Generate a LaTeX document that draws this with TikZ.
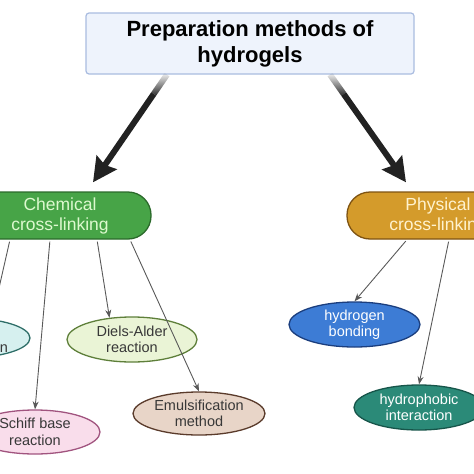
\documentclass[tikz,border=0pt]{standalone}
\usepackage{fontspec}
\setmainfont{Liberation Sans}
\usetikzlibrary{shapes.geometric,arrows.meta,calc,fadings}

\definecolor{titlefill}{HTML}{EEF3FC}
\definecolor{titleline}{HTML}{A9BCE0}
\definecolor{chemfill}{HTML}{47A447}
\definecolor{chemline}{HTML}{2B6A2B}
\definecolor{chemtext}{HTML}{DDF9CF}
\definecolor{physfill}{HTML}{D49B2B}
\definecolor{physline}{HTML}{7E5312}
\definecolor{phystext}{HTML}{FFF3CF}
\definecolor{cyanfill}{HTML}{D6F0EF}
\definecolor{cyanline}{HTML}{2E6E68}
\definecolor{schifffill}{HTML}{F9DDEB}
\definecolor{schiffline}{HTML}{A1547F}
\definecolor{dielsfill}{HTML}{EAF4D6}
\definecolor{dielsline}{HTML}{5E7F3A}
\definecolor{emulfill}{HTML}{E8D5C8}
\definecolor{emulline}{HTML}{5A3B2B}
\definecolor{hbondfill}{HTML}{3D7CD5}
\definecolor{hbondline}{HTML}{1B3E7E}
\definecolor{hphobfill}{HTML}{2B8A78}
\definecolor{hphobline}{HTML}{17554A}
\definecolor{darktext}{HTML}{383838}
\definecolor{arrowgray}{HTML}{222222}

\tikzset{
  branch/.style={draw, line width=1.3pt, rounded corners=23pt, minimum width=182pt,
    minimum height=47pt, inner sep=0pt, align=center, font=\fontsize{17.5}{20}\selectfont},
  method/.style={ellipse, draw, line width=1.3pt, minimum width=130pt, minimum height=44pt,
    inner sep=0pt, align=center, font=\fontsize{14.5}{16.5}\selectfont},
  bigarrow/.style={line width=6pt, draw=arrowgray, -{Stealth[length=24pt,width=24pt,inset=3pt]}},
  fadeline/.style={line width=6pt, draw=arrowgray, path fading=north},
  thinarrow/.style={line width=0.9pt, draw=black!65, shorten <=2pt, -{Stealth[length=8pt,width=6pt]}},
}

\begin{document}
\begin{tikzpicture}[x=1pt,y=-1pt]
  \useasboundingbox (0,0) rectangle (474,474);

  % title box
  \node[draw=titleline, fill=titlefill, line width=1.2pt, rounded corners=3pt,
    minimum width=328pt, minimum height=61pt, align=center,
    font=\fontsize{22}{26}\selectfont\bfseries] (title) at (250,43.5)
    {Preparation methods of\\hydrogels};

  % the two branches
  \node[branch, fill=chemfill, draw=chemline, text=chemtext] (chem) at (60,215.5)
    {Chemical\\cross-linking};
  \node[branch, fill=physfill, draw=physline, text=phystext] (phys) at (438,215.5)
    {Physical\\cross-linking};

  % methods
  \node[method, fill=cyanfill, draw=cyanline, minimum height=40pt] (cyanm) at (-35,338) {};
  \node[anchor=base, text=darktext, font=\fontsize{14.5}{16.5}\selectfont] (cyantxt) at (4,352) {n};
  \node[method, fill=schifffill, draw=schiffline, text=darktext] (schiff) at (35,432)
    {Schiff base\\reaction};
  \node[method, fill=dielsfill, draw=dielsline, text=darktext, minimum height=45pt] (diels) at (132,339.5)
    {Diels-Alder\\reaction};
  \node[method, fill=emulfill, draw=emulline, text=darktext, minimum width=132pt, minimum height=43pt] (emul) at (199,413.5)
    {Emulsification\\method};
  \node[method, fill=hbondfill, draw=hbondline, text=white, minimum width=131pt, minimum height=45pt] (hbond) at (354.5,324.5)
    {hydrogen\\bonding};
  \node[method, fill=hphobfill, draw=hphobline, text=white, minimum height=45pt] (hphob) at (419,407.5)
    {hydrophobic\\interaction};

  % thick arrows, faded where they leave the title
  \coordinate (lA) at ([xshift=-83pt]title.south);
  \coordinate (lB) at ([xshift=33pt,yshift=9pt]chem.north);
  \coordinate (lM) at ($(lA)!0.18!(lB)$);
  \coordinate (rA) at ([xshift=80pt]title.south);
  \coordinate (rB) at ([xshift=-32pt,yshift=9pt]phys.north);
  \coordinate (rM) at ($(rA)!0.18!(rB)$);
  \draw[fadeline] (lA) -- (lM);
  \draw[bigarrow] (lM) -- (lB);
  \draw[fadeline] (rA) -- (rM);
  \draw[bigarrow] (rM) -- (rB);

  % thin arrows
  \draw[thinarrow] ([xshift=-50pt]chem.south) -- (cyanm.35);
  \draw[thinarrow] ([xshift=-10pt]chem.south) -- (schiff.north);
  \draw[thinarrow] ([xshift=37pt]chem.south) -- (diels.136);
  \draw[thinarrow] ([xshift=70pt]chem.south) -- (emul.north);
  \draw[thinarrow] ([xshift=-31pt]phys.south) -- (hbond.north);
  \draw[thinarrow] ([xshift=11pt]phys.south) -- (hphob.north);
\end{tikzpicture}
\end{document}
